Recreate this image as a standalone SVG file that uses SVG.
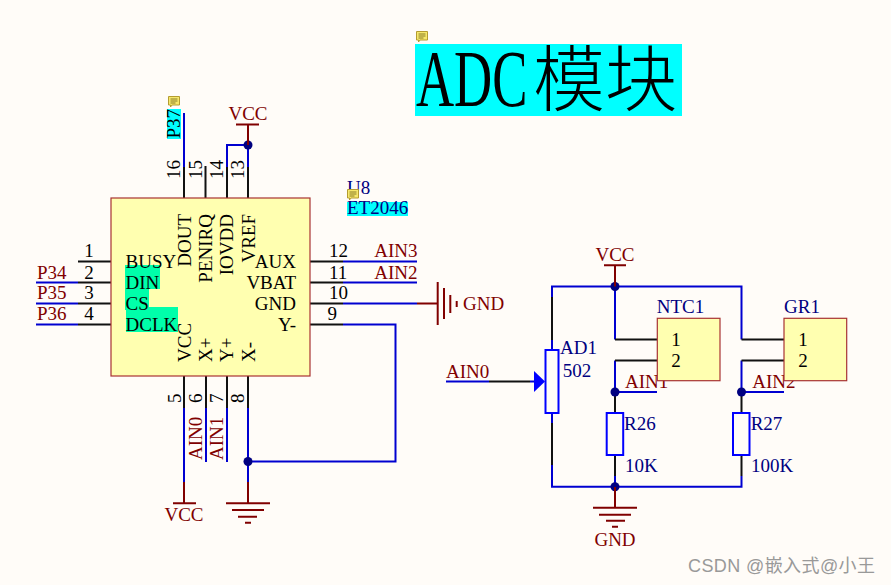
<svg xmlns="http://www.w3.org/2000/svg" width="891" height="585" viewBox="0 0 891 585">
<style>
text{font-family:"Liberation Serif","Noto Sans CJK SC",serif;font-size:19px}
.k{fill:#000}.r{fill:#800000}.n{fill:#000080}
.m{text-anchor:middle}.e{text-anchor:end}
.w{fill:none;stroke:#0000d0;stroke-width:2}
.b{fill:none;stroke:#111;stroke-width:2}
.p{fill:none;stroke:#800000;stroke-width:2}
.box{fill:#ffffb0;stroke:#a83232;stroke-width:1.2}
.res{fill:#fffcf8;stroke:#0000ff;stroke-width:2}
.dot{fill:#000080}
.wm{font-family:"Liberation Sans","Noto Sans CJK SC",sans-serif;font-size:18px;fill:#999}
</style>
<defs>
<g id="note"><path d="M0.5 0.5H11.5V9H4L2.5 11V9H0.5Z" fill="#f6e86c" stroke="#b49c30"/><path d="M2.5 3H9.5M2.5 5H9.5M2.5 7H7.5" stroke="#6e6018" stroke-width="0.8"/></g>
</defs>
<rect width="891" height="585" fill="#fffcf8"/>

<g id="title">
<rect x="415" y="44" width="267" height="72" fill="#00ffff"/>
<text transform="translate(416 106) scale(.66 1)" style="font-size:80px">ADC</text>
<text x="533" y="105" style="font-size:72px;font-family:'Noto Sans CJK SC',sans-serif;font-weight:300">模块</text>
<use href="#note" x="416" y="31"/>
</g>

<g id="connectors">
<path class="w" d="M184 113V167M227 167V145H248M248 145V167M184 408V482M206 408V462M227 408V462M248 408V482M36 282.5H78M36 303.5H78M36 324.5H78"/>
<path class="w" d="M343 261.5H417M343 282.5H417M343 303.5H417M343 324.5H395.5V461.5H248"/>
<path class="w" d="M552 297V286.5H741.5V339.5M615 286.5V339.5M552 465V486.7H741.5V476M552 350V340M552 413V423M615 360.5V392H657M615 476V487M741.5 360.5V392H784M741.5 476V487M446 381.5H489M530 381.5H536"/>
<path class="b" d="M78 261.5H111M78 282.5H111M78 303.5H111M78 324.5H111M184 167V198M205.5 166V198M227 167V198M248 167V198M184 376V408M206 376V408M227 376V408M248 376V408M310 261.5H343M310 282.5H343M310 303.5H343M310 324.5H343"/>
<path class="b" d="M552 297V340M552 423V465M489 381.5H530M615 339.5H657M615 360.5H657M741.5 339.5H784M741.5 360.5H784M615 392V413M615 455V476M741.5 392V413M741.5 455V476"/>
<circle class="dot" cx="248" cy="145" r="4.5"/>
<circle class="dot" cx="248" cy="461.5" r="4.5"/>
<circle class="dot" cx="615" cy="286.5" r="4.5"/>
<circle class="dot" cx="615" cy="392" r="4.5"/>
<circle class="dot" cx="741.5" cy="392" r="4.5"/>
<circle class="dot" cx="615" cy="486.7" r="4.5"/>
</g>

<g id="U8">
<rect class="box" x="111" y="198" width="199" height="178"/>
<rect x="125" y="265" width="35" height="24" fill="#00ffaa"/>
<rect x="125" y="289" width="24" height="21" fill="#00ffaa"/>
<rect x="126" y="307" width="52" height="25" fill="#00ffaa"/>
<g class="k">
<text x="125.5" y="267.7">BUSY</text><text x="125.5" y="288.7">DIN</text><text x="125.5" y="309.5">CS</text><text x="125.5" y="330.7">DCLK</text>
<text class="e" x="296" y="268">AUX</text><text class="e" x="296" y="289">VBAT</text><text class="e" x="296" y="310">GND</text><text class="e" x="296" y="330.7">Y-</text>
<text class="e" transform="translate(190.7 214) rotate(-90)">DOUT</text>
<text class="e" transform="translate(211.7 214) rotate(-90)">PENIRQ</text>
<text class="e" transform="translate(233 214) rotate(-90)">IOVDD</text>
<text class="e" transform="translate(255 214) rotate(-90)">VREF</text>
<text transform="translate(190.7 362) rotate(-90)">VCC</text>
<text transform="translate(212 362) rotate(-90)">X+</text>
<text transform="translate(233 362) rotate(-90)">Y+</text>
<text transform="translate(255 362) rotate(-90)">X-</text>
<text class="m" x="89" y="256.7">1</text><text class="m" x="89" y="279">2</text><text class="m" x="89" y="299.3">3</text><text class="m" x="89" y="320">4</text>
<text x="329" y="256.7">12</text><text x="329" y="279">11</text><text x="329" y="299.3">10</text><text x="327.5" y="320">9</text>
<text transform="translate(180 179) rotate(-90)">16</text>
<text transform="translate(201.7 179) rotate(-90)">15</text>
<text transform="translate(222.7 179) rotate(-90)">14</text>
<text transform="translate(244 179) rotate(-90)">13</text>
<text transform="translate(181 403) rotate(-90)">5</text>
<text transform="translate(202 403) rotate(-90)">6</text>
<text transform="translate(223 403) rotate(-90)">7</text>
<text transform="translate(244 403) rotate(-90)">8</text>
</g>
<text class="n" x="347" y="194">U8</text>
<rect x="347" y="202" width="61" height="14" fill="#00ffff"/>
<text class="n" x="347" y="214.3">ET2046</text>
<use href="#note" x="347" y="189"/>
</g>

<g id="net-labels">
<text class="r" x="37" y="279">P34</text><text class="r" x="37" y="299.3">P35</text><text class="r" x="37" y="320">P36</text>
<text class="r" x="374.3" y="256.7">AIN3</text><text class="r" x="374.3" y="279">AIN2</text>
<rect x="167" y="109" width="14" height="30" fill="#00ffff"/>
<text class="k" transform="translate(180 138.5) rotate(-90)">P37</text>
<use href="#note" x="168" y="96"/>
<text class="r" transform="translate(201.7 460) rotate(-90)">AIN0</text>
<text class="r" transform="translate(223 460) rotate(-90)">AIN1</text>
<text class="r" x="446" y="378">AIN0</text>
<text class="r" x="625" y="388">AIN1</text>
<text class="r" x="752.3" y="388">AIN2</text>
</g>

<g id="VCC-top">
<path class="p" d="M236 124.5H259M248 124.5V145"/>
<text class="r m" x="248" y="120">VCC</text>
</g>
<g id="VCC-bottom">
<path class="p" d="M184 482V503.3M173 503.3H196"/>
<text class="r m" x="184" y="520.5">VCC</text>
</g>
<g id="GND-bottom">
<path class="p" d="M248 482V503.3M226 503.3H270M232 510H264M238 516.7H257M245 522.7H251"/>
</g>
<g id="GND-right">
<path class="p" d="M417 303.5H437.7M437.7 282V325M444 288V319M450.3 295V313M456.7 301V307"/>
<text class="r" x="463" y="310">GND</text>
</g>
<g id="VCC-right">
<path class="p" d="M604 265.3H626M615 265.3V286.5"/>
<text class="r m" x="615" y="261">VCC</text>
</g>
<g id="GND-circuit">
<path class="p" d="M615 487V507.7M593 507.7H637M599 514.7H631M606 520.7H625M612 526.7H618"/>
<text class="r m" x="615" y="546">GND</text>
</g>

<g id="AD1">
<rect class="res" x="545.5" y="350" width="13" height="63"/>
<path d="M534 371V392L545 381.5Z" fill="#0000ff"/>
<text class="n" x="560" y="354">AD1</text>
<text class="n" x="562.7" y="377">502</text>
</g>
<g id="R26">
<rect class="res" x="606.7" y="413" width="16.5" height="42"/>
<text class="n" x="624" y="430">R26</text>
<text class="n" x="625" y="471.7">10K</text>
</g>
<g id="R27">
<rect class="res" x="733" y="413" width="16.5" height="42"/>
<text class="n" x="750.7" y="430">R27</text>
<text class="n" x="751" y="471.7">100K</text>
</g>
<g id="NTC1">
<rect class="box" x="657.3" y="318.3" width="62.7" height="62.4"/>
<text class="n" x="656.7" y="313.3">NTC1</text>
<text class="k m" x="676" y="345.7">1</text><text class="k m" x="676" y="366.7">2</text>
</g>
<g id="GR1">
<rect class="box" x="784" y="318.3" width="62.7" height="62.4"/>
<text class="n" x="784" y="313.3">GR1</text>
<text class="k m" x="803" y="345.7">1</text><text class="k m" x="803" y="366.7">2</text>
</g>
<text class="wm" x="688" y="571.5" textLength="187">CSDN @嵌入式@小王</text>
</svg>
